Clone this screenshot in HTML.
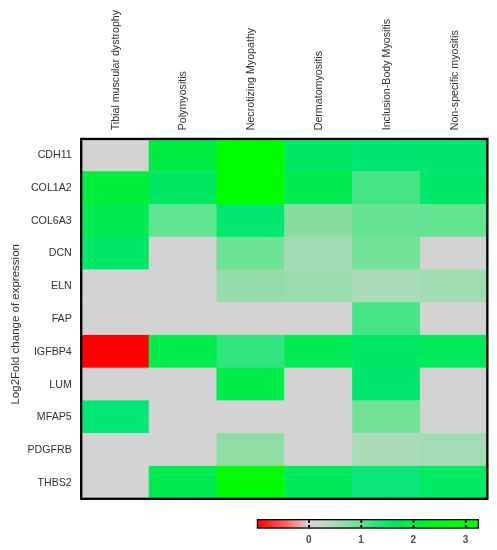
<!DOCTYPE html>
<html><head><meta charset="utf-8"><title>Heatmap</title>
<style>
html,body{margin:0;padding:0;background:#fff}
svg{display:block}
text{font-family:"Liberation Sans",Arial,sans-serif;fill:#333}
</style></head><body>
<svg width="497" height="550" viewBox="0 0 497 550">
<rect width="497" height="550" fill="#fff"/>
<defs><linearGradient id="cb" x1="0" x2="1" y1="0" y2="0">
<stop offset="0.0000" stop-color="#ff0000"/>
<stop offset="0.1183" stop-color="#fd5858"/>
<stop offset="0.1893" stop-color="#f4a0a0"/>
<stop offset="0.2272" stop-color="#e4cdcd"/>
<stop offset="0.2367" stop-color="#d3d3d3"/>
<stop offset="0.3005" stop-color="#c3dac8"/>
<stop offset="0.4212" stop-color="#80df9c"/>
<stop offset="0.4733" stop-color="#5ce48e"/>
<stop offset="0.5443" stop-color="#1ee776"/>
<stop offset="0.6153" stop-color="#00e964"/>
<stop offset="0.7100" stop-color="#00f03e"/>
<stop offset="0.8046" stop-color="#00f819"/>
<stop offset="0.9229" stop-color="#00fe04"/>
<stop offset="0.9466" stop-color="#00ff00"/>
<stop offset="1" stop-color="#00ff00"/>
</linearGradient></defs>
<g>
<rect x="80.90" y="138.50" width="68.30" height="33.24" fill="#d3d3d3"/>
<rect x="148.70" y="138.50" width="68.30" height="33.24" fill="#00eb41"/>
<rect x="216.50" y="138.50" width="68.30" height="33.24" fill="#00ff00"/>
<rect x="284.30" y="138.50" width="68.30" height="33.24" fill="#00e864"/>
<rect x="352.10" y="138.50" width="68.30" height="33.24" fill="#00e673"/>
<rect x="419.90" y="138.50" width="68.30" height="33.24" fill="#00e770"/>
<rect x="80.90" y="171.24" width="68.30" height="33.24" fill="#00ee3c"/>
<rect x="148.70" y="171.24" width="68.30" height="33.24" fill="#00e85f"/>
<rect x="216.50" y="171.24" width="68.30" height="33.24" fill="#00ff00"/>
<rect x="284.30" y="171.24" width="68.30" height="33.24" fill="#00ec50"/>
<rect x="352.10" y="171.24" width="68.30" height="33.24" fill="#46e486"/>
<rect x="419.90" y="171.24" width="68.30" height="33.24" fill="#00e869"/>
<rect x="80.90" y="203.97" width="68.30" height="33.24" fill="#00ec50"/>
<rect x="148.70" y="203.97" width="68.30" height="33.24" fill="#5fe491"/>
<rect x="216.50" y="203.97" width="68.30" height="33.24" fill="#00e86e"/>
<rect x="284.30" y="203.97" width="68.30" height="33.24" fill="#87dda0"/>
<rect x="352.10" y="203.97" width="68.30" height="33.24" fill="#66e393"/>
<rect x="419.90" y="203.97" width="68.30" height="33.24" fill="#64e391"/>
<rect x="80.90" y="236.71" width="68.30" height="33.24" fill="#00e869"/>
<rect x="148.70" y="236.71" width="68.30" height="33.24" fill="#d3d3d3"/>
<rect x="216.50" y="236.71" width="68.30" height="33.24" fill="#6ee296"/>
<rect x="284.30" y="236.71" width="68.30" height="33.24" fill="#a2dbb2"/>
<rect x="352.10" y="236.71" width="68.30" height="33.24" fill="#73e198"/>
<rect x="419.90" y="236.71" width="68.30" height="33.24" fill="#d3d3d3"/>
<rect x="80.90" y="269.45" width="68.30" height="33.24" fill="#d3d3d3"/>
<rect x="148.70" y="269.45" width="68.30" height="33.24" fill="#d3d3d3"/>
<rect x="216.50" y="269.45" width="68.30" height="33.24" fill="#96dcaa"/>
<rect x="284.30" y="269.45" width="68.30" height="33.24" fill="#9bdcac"/>
<rect x="352.10" y="269.45" width="68.30" height="33.24" fill="#a8dbb6"/>
<rect x="419.90" y="269.45" width="68.30" height="33.24" fill="#a0dcb0"/>
<rect x="80.90" y="302.18" width="68.30" height="33.24" fill="#d3d3d3"/>
<rect x="148.70" y="302.18" width="68.30" height="33.24" fill="#d3d3d3"/>
<rect x="216.50" y="302.18" width="68.30" height="33.24" fill="#d3d3d3"/>
<rect x="284.30" y="302.18" width="68.30" height="33.24" fill="#d3d3d3"/>
<rect x="352.10" y="302.18" width="68.30" height="33.24" fill="#46e486"/>
<rect x="419.90" y="302.18" width="68.30" height="33.24" fill="#d3d3d3"/>
<rect x="80.90" y="334.92" width="68.30" height="33.24" fill="#ff0000"/>
<rect x="148.70" y="334.92" width="68.30" height="33.24" fill="#00ed4b"/>
<rect x="216.50" y="334.92" width="68.30" height="33.24" fill="#30e480"/>
<rect x="284.30" y="334.92" width="68.30" height="33.24" fill="#00ec55"/>
<rect x="352.10" y="334.92" width="68.30" height="33.24" fill="#00e964"/>
<rect x="419.90" y="334.92" width="68.30" height="33.24" fill="#00eb5a"/>
<rect x="80.90" y="367.65" width="68.30" height="33.24" fill="#d3d3d3"/>
<rect x="148.70" y="367.65" width="68.30" height="33.24" fill="#d3d3d3"/>
<rect x="216.50" y="367.65" width="68.30" height="33.24" fill="#00ee4b"/>
<rect x="284.30" y="367.65" width="68.30" height="33.24" fill="#d3d3d3"/>
<rect x="352.10" y="367.65" width="68.30" height="33.24" fill="#00e76e"/>
<rect x="419.90" y="367.65" width="68.30" height="33.24" fill="#d3d3d3"/>
<rect x="80.90" y="400.39" width="68.30" height="33.24" fill="#00e773"/>
<rect x="148.70" y="400.39" width="68.30" height="33.24" fill="#d3d3d3"/>
<rect x="216.50" y="400.39" width="68.30" height="33.24" fill="#d3d3d3"/>
<rect x="284.30" y="400.39" width="68.30" height="33.24" fill="#d3d3d3"/>
<rect x="352.10" y="400.39" width="68.30" height="33.24" fill="#73e198"/>
<rect x="419.90" y="400.39" width="68.30" height="33.24" fill="#d3d3d3"/>
<rect x="80.90" y="433.13" width="68.30" height="33.24" fill="#d3d3d3"/>
<rect x="148.70" y="433.13" width="68.30" height="33.24" fill="#d3d3d3"/>
<rect x="216.50" y="433.13" width="68.30" height="33.24" fill="#8edda5"/>
<rect x="284.30" y="433.13" width="68.30" height="33.24" fill="#d3d3d3"/>
<rect x="352.10" y="433.13" width="68.30" height="33.24" fill="#aadbb7"/>
<rect x="419.90" y="433.13" width="68.30" height="33.24" fill="#a5dbb4"/>
<rect x="80.90" y="465.86" width="68.30" height="33.24" fill="#d3d3d3"/>
<rect x="148.70" y="465.86" width="68.30" height="33.24" fill="#00ec50"/>
<rect x="216.50" y="465.86" width="68.30" height="33.24" fill="#00fd04"/>
<rect x="284.30" y="465.86" width="68.30" height="33.24" fill="#00eb5a"/>
<rect x="352.10" y="465.86" width="68.30" height="33.24" fill="#0ae67a"/>
<rect x="419.90" y="465.86" width="68.30" height="33.24" fill="#00ea64"/>
</g>
<rect x="81.2" y="138.95" width="406.15" height="359.85" fill="none" stroke="#000" stroke-width="2.3"/>
<text x="71.8" y="157.97" font-size="10.67" text-anchor="end">CDH11</text>
<text x="71.8" y="190.77" font-size="10.67" text-anchor="end">COL1A2</text>
<text x="71.8" y="223.57" font-size="10.67" text-anchor="end">COL6A3</text>
<text x="71.8" y="256.37" font-size="10.67" text-anchor="end">DCN</text>
<text x="71.8" y="289.17" font-size="10.67" text-anchor="end">ELN</text>
<text x="71.8" y="321.97" font-size="10.67" text-anchor="end">FAP</text>
<text x="71.8" y="354.77" font-size="10.67" text-anchor="end">IGFBP4</text>
<text x="71.8" y="387.57" font-size="10.67" text-anchor="end">LUM</text>
<text x="71.8" y="420.37" font-size="10.67" text-anchor="end">MFAP5</text>
<text x="71.8" y="453.17" font-size="10.67" text-anchor="end">PDGFRB</text>
<text x="71.8" y="485.97" font-size="10.67" text-anchor="end">THBS2</text>
<text transform="translate(118.50,130.3) rotate(-90)" font-size="10.67">Tibial muscular dystrophy</text>
<text transform="translate(186.30,130.3) rotate(-90)" font-size="10.67">Polymyositis</text>
<text transform="translate(254.10,130.3) rotate(-90)" font-size="10.67">Necrotizing Myopathy</text>
<text transform="translate(321.90,130.3) rotate(-90)" font-size="10.67">Dermatomyositis</text>
<text transform="translate(389.70,130.3) rotate(-90)" font-size="10.67">Inclusion-Body Myositis</text>
<text transform="translate(457.50,130.3) rotate(-90)" font-size="10.67">Non-specific myositis</text>
<text transform="translate(19.1,324.3) rotate(-90)" font-size="11.5" text-anchor="middle">Log2Fold change of expression</text>
<rect x="257.40" y="519.65" width="221.00" height="8.4" fill="url(#cb)" stroke="#000" stroke-width="1.3"/>
<path d="M309.00 520.2v2.5M309.00 524.9v2.6" stroke="#000" stroke-width="2" fill="none"/>
<text x="308.80" y="543.1" font-size="10" font-weight="bold" style="fill:#505050" text-anchor="middle">0</text>
<path d="M361.27 520.2v2.5M361.27 524.9v2.6" stroke="#000" stroke-width="2" fill="none"/>
<text x="361.07" y="543.1" font-size="10" font-weight="bold" style="fill:#505050" text-anchor="middle">1</text>
<path d="M413.54 520.2v2.5M413.54 524.9v2.6" stroke="#000" stroke-width="2" fill="none"/>
<text x="413.34" y="543.1" font-size="10" font-weight="bold" style="fill:#505050" text-anchor="middle">2</text>
<path d="M465.81 520.2v2.5M465.81 524.9v2.6" stroke="#000" stroke-width="2" fill="none"/>
<text x="465.61" y="543.1" font-size="10" font-weight="bold" style="fill:#505050" text-anchor="middle">3</text>
</svg>
</body></html>
